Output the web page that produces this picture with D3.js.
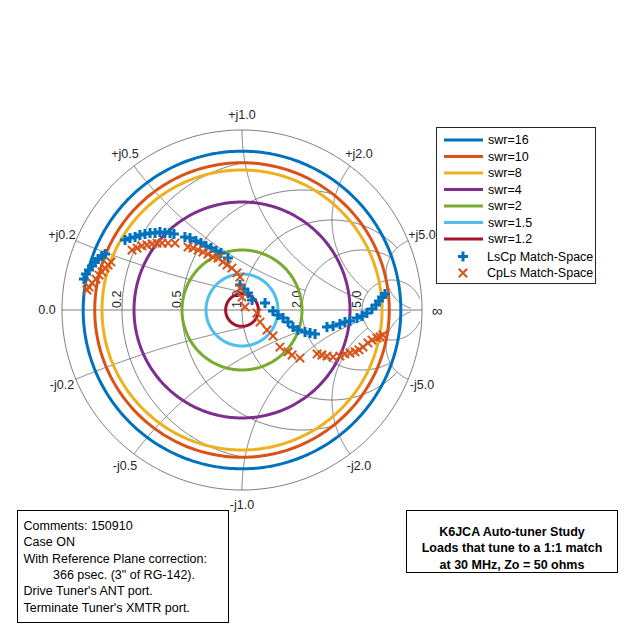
<!DOCTYPE html>
<html><head><meta charset="utf-8">
<script src="https://cdn.jsdelivr.net/npm/d3@7"></script>
<style>body{margin:0;background:#fff}svg{display:block}</style>
</head><body>
<svg id="c" width="640" height="640"></svg>
<script>
// ---- data ----
const gridValues = [0.2, 0.5, 1.0, 2.0, 5.0];
const gridLimits = [1.0, 2.0, 5.0, 5.0, 30];
const resLabels = ["0.2", "0.5", "1.0", "2.0", "5.0"];
const reactLabelsPos = ["+j0.2", "+j0.5", "+j1.0", "+j2.0", "+j5.0"];
const reactLabelsNeg = ["-j0.2", "-j0.5", "-j1.0", "-j2.0", "-j5.0"];
const swrValues = [16, 10, 8, 4, 2, 1.5, 1.2];
const swrNames = ["swr=16", "swr=10", "swr=8", "swr=4", "swr=2", "swr=1.5", "swr=1.2"];
const swrColors = ["#0072BD", "#D95319", "#EDB120", "#7E2F8E", "#77AC30", "#4DBEEE", "#A2142F"];
const seriesNames = ["LsCp Match-Space", "CpLs Match-Space"];
// reflection coefficient (real, imag) of the loads
const lscpRe = [-0.878,-0.867,-0.850,-0.833,-0.817,-0.800,-0.778,-0.761,-0.650,-0.622,-0.594,-0.567,-0.539,-0.511,-0.483,-0.456,-0.428,-0.400,-0.378,-0.317,-0.289,-0.256,-0.228,-0.200,-0.172,-0.144,-0.117,-0.078,-0.011,0.011,0.033,0.056,0.128,0.172,0.200,0.228,0.256,0.283,0.311,0.350,0.378,0.406,0.472,0.506,0.544,0.572,0.600,0.639,0.667,0.694,0.722,0.744,0.761,0.778,0.794];
const lscpIm = [0.172,0.200,0.222,0.244,0.267,0.283,0.300,0.311,0.389,0.400,0.406,0.417,0.422,0.428,0.428,0.433,0.428,0.428,0.422,0.406,0.400,0.383,0.372,0.356,0.344,0.328,0.317,0.289,0.139,0.117,0.094,0.056,0.039,-0.006,-0.028,-0.044,-0.067,-0.094,-0.111,-0.122,-0.128,-0.133,-0.094,-0.089,-0.078,-0.067,-0.061,-0.044,-0.033,-0.017,0.006,0.028,0.050,0.072,0.089];
const cplsRe = [-0.861,-0.850,-0.833,-0.811,-0.794,-0.778,-0.761,-0.744,-0.728,-0.611,-0.583,-0.556,-0.528,-0.500,-0.472,-0.444,-0.411,-0.372,-0.300,-0.272,-0.244,-0.217,-0.189,-0.161,-0.133,-0.106,-0.083,-0.056,-0.028,-0.011,-0.011,0.000,0.017,0.083,0.100,0.139,0.172,0.211,0.256,0.278,0.322,0.417,0.444,0.472,0.506,0.544,0.572,0.600,0.628,0.650,0.672,0.700,0.722,0.750,0.767,0.783];
const cplsIm = [0.111,0.128,0.150,0.172,0.194,0.211,0.233,0.250,0.267,0.333,0.344,0.356,0.361,0.367,0.372,0.372,0.372,0.372,0.350,0.344,0.333,0.322,0.311,0.294,0.289,0.267,0.250,0.233,0.206,0.183,0.122,0.072,0.017,-0.017,-0.067,-0.111,-0.144,-0.206,-0.233,-0.250,-0.267,-0.244,-0.250,-0.256,-0.261,-0.256,-0.244,-0.239,-0.233,-0.222,-0.206,-0.183,-0.167,-0.156,-0.150,-0.139];
const commentLines = ["Comments: 150910", "Case ON", "With Reference Plane correction:", "366 psec.  (3\" of RG-142).", "Drive Tuner's ANT port.", "Terminate Tuner's XMTR port."];
const commentIndent = [0, 0, 0, 1, 0, 0];
const titleLines = ["K6JCA Auto-tuner Study", "Loads that tune to a 1:1 match", "at 30 MHz, Zo = 50 ohms"];

// ---- drawing ----
const svg = d3.select("#c");
const FONT = "'Liberation Sans', Arial, sans-serif";
const cx = 242, cy = 310, R = 180;
const sx = d3.scaleLinear().domain([-1, 1]).range([cx - R, cx + R]);
const sy = d3.scaleLinear().domain([-1, 1]).range([cy + R, cy - R]);
const line = d3.line().x(d => sx(d[0])).y(d => sy(d[1]));
function gamma(r, x) { // (z-1)/(z+1)
  const a = r - 1, b = x, c = r + 1, d = x, den = c * c + d * d;
  return [(a * c + b * d) / den, (b * c - a * d) / den];
}
const grid = svg.append("g").attr("fill", "none").attr("stroke", "#5a5a5a").attr("stroke-width", 0.8);
// outer circle and real axis
grid.append("path").attr("d", line(d3.range(0, 361).map(i => [Math.cos(i * Math.PI / 180), Math.sin(i * Math.PI / 180)])));
grid.append("path").attr("d", line([[-1, 0], [1, 0]]));
gridValues.forEach((v, i) => {
  const L = gridLimits[i];
  // constant resistance circle r=v for |x|<=L
  const c0 = v / (1 + v), rho = 1 / (1 + v);
  const gL = gamma(v, L);
  const phL = Math.atan2(gL[1], gL[0] - c0);
  const pts = d3.range(0, 301).map(k => {
    const ph = phL + (2 * Math.PI - 2 * phL) * k / 300;
    return [c0 + rho * Math.cos(ph), rho * Math.sin(ph)];
  });
  grid.append("path").attr("d", line(pts));
  // reactance arcs x=+-v for r<=L
  [v, -v].forEach(xv => {
    const ccy = 1 / xv, rr = Math.abs(1 / xv);
    const g0 = gamma(0, xv), g1 = gamma(L, xv);
    let a0 = Math.atan2(g0[1] - ccy, g0[0] - 1), a1 = Math.atan2(g1[1] - ccy, g1[0] - 1);
    while (a1 - a0 > Math.PI) a1 -= 2 * Math.PI;
    while (a1 - a0 < -Math.PI) a1 += 2 * Math.PI;
    const p = d3.range(0, 301).map(k => {
      const a = a0 + (a1 - a0) * k / 300;
      return [1 + rr * Math.cos(a), ccy + rr * Math.sin(a)];
    });
    grid.append("path").attr("d", line(p));
  });
});
// labels
const lab = svg.append("g").attr("font-family", FONT).attr("font-size", 12.5).attr("fill", "#262626");
const LR = 195 / R;
gridValues.forEach((v, i) => {
  [[v, reactLabelsPos[i]], [-v, reactLabelsNeg[i]]].forEach(([xv, t]) => {
    const g = gamma(0, xv);
    lab.append("text").attr("x", sx(g[0] * LR)).attr("y", sy(g[1] * LR))
      .attr("text-anchor", "middle").attr("dominant-baseline", "central").text(t);
  });
  const gr = gamma(v, 0);
  lab.append("text").attr("transform", `translate(${sx(gr[0]) - 1},${cy - 2}) rotate(-90)`)
    .attr("text-anchor", "start").text(resLabels[i]);
});
lab.append("text").attr("x", sx(-LR)).attr("y", cy).attr("text-anchor", "middle").attr("dominant-baseline", "central").text("0.0");
lab.append("text").attr("x", sx(LR)).attr("y", cy).attr("text-anchor", "middle").attr("dominant-baseline", "central").attr("font-size", 15).text("∞");

// swr circles
const sw = svg.append("g").attr("fill", "none").attr("stroke-width", 3);
swrValues.forEach((s, i) => {
  const m = (s - 1) / (s + 1);
  sw.append("path").attr("stroke", swrColors[i])
    .attr("d", line(d3.range(0, 361).map(k => [m * Math.cos(k * Math.PI / 180), m * Math.sin(k * Math.PI / 180)])));
});
// markers
const plusPath = s => `M${-s},0H${s}M0,${-s}V${s}`;
const xPath = s => `M${-s},${-s}L${s},${s}M${-s},${s}L${s},${-s}`;
const mk = svg.append("g").attr("fill", "none");
lscpRe.forEach((re, i) => {
  mk.append("path").attr("transform", `translate(${sx(re)},${sy(lscpIm[i])})`)
    .attr("d", plusPath(5)).attr("stroke", swrColors[0]).attr("stroke-width", 3);
});
cplsRe.forEach((re, i) => {
  mk.append("path").attr("transform", `translate(${sx(re)},${sy(cplsIm[i])})`)
    .attr("d", xPath(4.2)).attr("stroke", swrColors[1]).attr("stroke-width", 2);
});

// legend
const lg = svg.append("g").attr("font-family", FONT).attr("font-size", 12.5).attr("fill", "#000");
lg.append("rect").attr("x", 436.5).attr("y", 127.5).attr("width", 159).attr("height", 156)
  .attr("fill", "#fff").attr("stroke", "#262626").attr("stroke-width", 1);
swrNames.forEach((n, i) => {
  const y = 140 + i * 16.5;
  lg.append("line").attr("x1", 444).attr("x2", 483).attr("y1", y).attr("y2", y)
    .attr("stroke", swrColors[i]).attr("stroke-width", 3);
  lg.append("text").attr("x", 488).attr("y", y).attr("dominant-baseline", "central").text(n);
});
seriesNames.forEach((n, i) => {
  const y = 256.5 + i * 16.5;
  lg.append("path").attr("transform", `translate(463,${y})`)
    .attr("d", i === 0 ? plusPath(5) : xPath(4.2)).attr("fill", "none")
    .attr("stroke", swrColors[i]).attr("stroke-width", i === 0 ? 3 : 2);
  lg.append("text").attr("x", 487).attr("y", y).attr("dominant-baseline", "central").text(n);
});

// comment box
const cb = svg.append("g").attr("font-family", FONT).attr("font-size", 12.5).attr("fill", "#000");
cb.append("rect").attr("x", 17.5).attr("y", 510.5).attr("width", 211).attr("height", 112)
  .attr("fill", "#fff").attr("stroke", "#000");
commentLines.forEach((t, i) => {
  cb.append("text").attr("x", commentIndent[i] ? 53 : 23.5).attr("y", 526 + i * 16.3)
    .attr("dominant-baseline", "central").text(t);
});
// title box
const tb = svg.append("g").attr("font-family", FONT).attr("font-size", 12.5).attr("font-weight", "bold").attr("fill", "#000");
tb.append("rect").attr("x", 406.5).attr("y", 510.5).attr("width", 211).attr("height", 62)
  .attr("fill", "#fff").attr("stroke", "#000");
titleLines.forEach((t, i) => {
  tb.append("text").attr("x", 512).attr("y", 532 + i * 16.3).attr("text-anchor", "middle")
    .attr("dominant-baseline", "central").text(t);
});
</script>
</body></html>
